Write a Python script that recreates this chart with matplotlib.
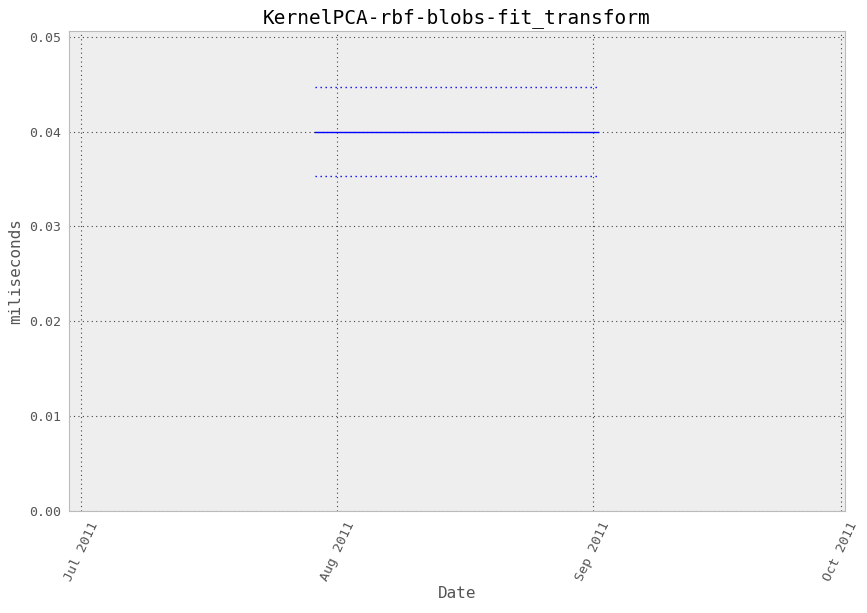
import numpy as np
import matplotlib
matplotlib.use("Agg")
import matplotlib.pyplot as plt
import matplotlib.dates as mdates
import pandas as pd

# data
dates = pd.to_datetime(["2011-07-29 08:00", "2011-09-01 13:00"])
mean_ms = [0.0400, 0.0400]
upper_ms = [0.04473, 0.04473]
lower_ms = [0.03534, 0.03534]
tick_dates = pd.to_datetime(["2011-07-01", "2011-08-01", "2011-09-01", "2011-10-01"])
y_ticks = [0.00, 0.01, 0.02, 0.03, 0.04, 0.05]

plt.rcParams["font.family"] = "DejaVu Sans Mono"

fig = plt.figure(figsize=(8.67, 6.13), dpi=100)
ax = fig.add_axes([69 / 867, 1 - 511 / 613, (845 - 69) / 867, (511 - 31) / 613])
ax.set_facecolor("#eeeeee")

ax.plot(dates, mean_ms, color="blue", linewidth=1.0)
ax.plot(dates, upper_ms, color="blue", linestyle=(0, (1, 2.6)), linewidth=1.0)
ax.plot(dates, lower_ms, color="blue", linestyle=(0, (1, 2.6)), linewidth=1.0)

ax.set_xlim(pd.Timestamp("2011-06-29 12:15"), pd.Timestamp("2011-10-01 12:30"))
ax.set_ylim(0, 0.0506)
ax.set_xticks(tick_dates)
ax.xaxis.set_major_formatter(mdates.DateFormatter("%b %Y"))
ax.set_yticks(y_ticks)
ax.yaxis.set_major_formatter(plt.FormatStrFormatter("%.2f"))

ax.grid(True, color="#444444", linestyle=(0, (1, 3)), linewidth=0.8)
ax.set_axisbelow(True)
for s in ax.spines.values():
    s.set_color("#bbbbbb")
ax.tick_params(length=0, colors="#555555", labelsize=9.5)
ax.tick_params(axis="y", pad=6)
ax.tick_params(axis="x", pad=6)
for lbl in ax.get_xticklabels():
    lbl.set_rotation(65)
    lbl.set_ha("center")

ax.set_title("KernelPCA-rbf-blobs-fit_transform", fontsize=14, color="black", pad=6)
ax.set_xlabel("Date", fontsize=11.5, color="#555555", labelpad=2)
ax.set_ylabel("miliseconds", fontsize=11.5, color="#555555", labelpad=4)

fig.savefig("out.png", dpi=100)
